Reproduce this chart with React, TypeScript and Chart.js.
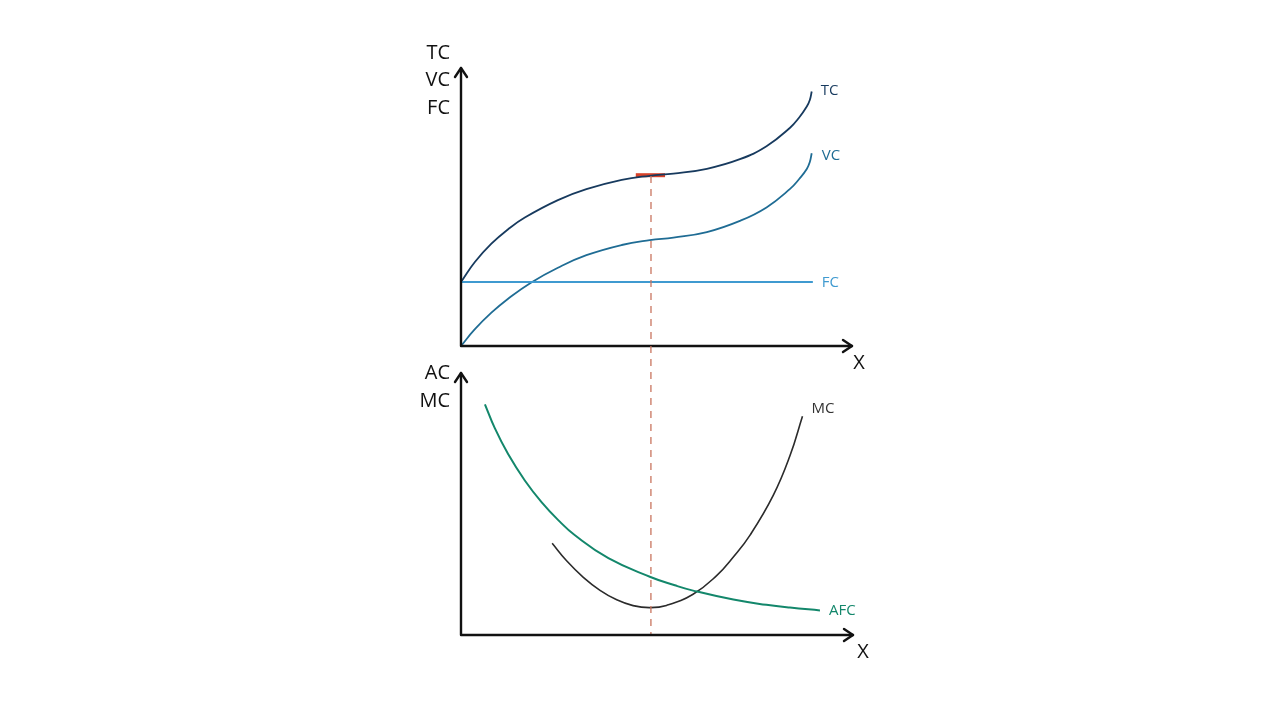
import React, { useEffect, useRef } from "react";
import { Chart, registerables } from "chart.js";

Chart.register(...registerables);

// ---------- Top panel data (TC, VC, FC) ----------
const tcX = [0, 0.36, 0.8, 1.24, 1.68, 2.55, 3.3, 4.23, 4.97, 5.59, 6.47, 7.34, 8.04, 8.66, 8.9, 9.1, 9.18, 9.23];
const tcValues = [6.4, 8.38, 10.23, 11.68, 12.85, 14.59, 15.68, 16.61, 17.02, 17.24, 17.72, 18.68, 19.98, 21.83, 22.85, 23.95, 24.6, 25.45];
const vcX = [0, 0.36, 0.8, 1.24, 1.85, 2.55, 3.3, 4.23, 4.97, 5.59, 6.47, 7.34, 8.04, 8.66, 8.9, 9.1, 9.18, 9.23];
const vcValues = [0, 1.66, 3.33, 4.73, 6.36, 7.83, 9.08, 10.1, 10.58, 10.84, 11.39, 12.51, 13.86, 15.71, 16.7, 17.7, 18.4, 19.27];
const fcX = [0, 9.26];
const fcValues = [6.4, 6.4];
const highlightX = [4.6, 5.37];
const highlightValues = [17.08, 17.08];
const dashTopX = [5, 5];
const dashTopValues = [17.0, 0];
const topXMax = 10.29;
const topYMax = 27.8;

// ---------- Bottom panel data (AFC, MC) ----------
const afcX = [0.63, 0.89, 1.24, 1.68, 2.12, 2.56, 3.0, 3.88, 4.97, 5.63, 6.11, 7.17, 8.04, 8.66, 9.45];
const afcValues = [23.07, 20.68, 18.09, 15.45, 13.29, 11.49, 9.97, 7.68, 5.83, 4.97, 4.44, 3.54, 3.02, 2.74, 2.46];
const mcX = [2.4, 2.78, 3.22, 3.66, 4.1, 4.53, 4.97, 5.41, 6.11, 6.73, 7.17, 7.61, 8.22, 8.66, 8.99];
const mcValues = [9.17, 7.42, 5.77, 4.47, 3.52, 2.94, 2.74, 2.96, 4.08, 5.94, 7.8, 9.99, 13.96, 17.92, 21.88];
const dashBottomX = [5, 5];
const dashBottomValues = [28.9, 0];
const bottomXMax = 10.32;
const bottomYMax = 26.2;

// ---------- Text ----------
const topAxisTitles = ["TC", "VC", "FC"];
const bottomAxisTitles = ["AC", "MC"];
const xAxisTitle = "X";

const FONT = "'Open Sans', 'Noto Sans', sans-serif";

type Pt = { x: number; y: number };
const pts = (xs: number[], ys: number[]): Pt[] => xs.map((x, i) => ({ x, y: ys[i] }));

type CurveLabel = { ds: number; text: string; color: string; dx: number; dy: number };

function axesPlugin(titles: string[], titleStep: number, titleTopOffset: number, curveLabels: CurveLabel[], xLabelDx: number) {
  return {
    id: "econAxes",
    afterDatasetsDraw(chart: any) {
      const { ctx, chartArea } = chart;
      const { left, right, top, bottom } = chartArea;
      ctx.save();
      ctx.strokeStyle = "#111";
      ctx.lineWidth = 2.4;
      ctx.lineCap = "round";
      ctx.lineJoin = "round";
      ctx.beginPath();
      ctx.moveTo(left, top);
      ctx.lineTo(left, bottom);
      ctx.lineTo(right, bottom);
      ctx.stroke();
      const a = 9;
      const s = 6;
      ctx.beginPath();
      ctx.moveTo(left - s, top + a);
      ctx.lineTo(left, top);
      ctx.lineTo(left + s, top + a);
      ctx.stroke();
      ctx.beginPath();
      ctx.moveTo(right - a, bottom - s);
      ctx.lineTo(right, bottom);
      ctx.lineTo(right - a, bottom + s);
      ctx.stroke();

      // axis titles
      ctx.fillStyle = "#111";
      ctx.font = `20px ${FONT}`;
      ctx.textAlign = "right";
      ctx.textBaseline = "middle";
      titles.forEach((t, i) => {
        ctx.fillText(t, left - 11, top + titleTopOffset + i * titleStep);
      });
      ctx.textAlign = "center";
      ctx.fillText(xAxisTitle, right + xLabelDx, bottom + 17);

      // curve labels
      ctx.font = `15px ${FONT}`;
      ctx.textAlign = "left";
      curveLabels.forEach((cl) => {
        const meta = chart.getDatasetMeta(cl.ds);
        const last = meta.data[meta.data.length - 1];
        ctx.fillStyle = cl.color;
        ctx.fillText(cl.text, last.x + cl.dx, last.y + cl.dy);
      });
      ctx.restore();
    },
  };
}

const TC_COLOR = "#173a5e";
const VC_COLOR = "#1f6c94";
const FC_COLOR = "#3f9ad0";
const AFC_COLOR = "#13876b";
const MC_COLOR = "#2b2b2b";
const DASH_COLOR = "#c9755f";
const HIGHLIGHT_COLOR = "#d8432a";

function baseOptions(xMax: number, yMax: number, padding: any) {
  return {
    animation: false as const,
    responsive: false,
    maintainAspectRatio: false,
    layout: { padding },
    plugins: { legend: { display: false }, tooltip: { enabled: false } },
    elements: { point: { radius: 0 } },
    scales: {
      x: { type: "linear" as const, min: 0, max: xMax, display: false },
      y: { type: "linear" as const, min: 0, max: yMax, display: false },
    },
  };
}

const CANVAS_H = 380;
const BOTTOM_TOP = 340;
const SMOOTH = 0.45;

function TopChart() {
  const ref = useRef<HTMLCanvasElement>(null);
  useEffect(() => {
    if (!ref.current) return;
    const chart = new Chart(ref.current, {
      type: "line",
      data: {
        datasets: [
          { data: pts(dashTopX, dashTopValues), borderColor: DASH_COLOR, borderWidth: 1.3, borderDash: [7, 6], tension: 0 } as any,
          { data: pts(fcX, fcValues), borderColor: FC_COLOR, borderWidth: 2.2, tension: 0 },
          { data: pts(vcX, vcValues), borderColor: VC_COLOR, borderWidth: 1.8, tension: SMOOTH },
          { data: pts(tcX, tcValues), borderColor: TC_COLOR, borderWidth: 1.8, tension: SMOOTH },
          { data: pts(highlightX, highlightValues), borderColor: HIGHLIGHT_COLOR, borderWidth: 4, tension: 0, borderCapStyle: "butt" },
        ],
      },
      options: baseOptions(topXMax, topYMax, { left: 461, right: 1280 - 852, top: 68, bottom: CANVAS_H - 346 }) as any,
      plugins: [
        axesPlugin(topAxisTitles, 27.5, -15, [
          { ds: 3, text: "TC", color: TC_COLOR, dx: 9, dy: -1 },
          { ds: 2, text: "VC", color: VC_COLOR, dx: 10, dy: 2 },
          { ds: 1, text: "FC", color: FC_COLOR, dx: 9, dy: 1 },
        ], 7) as any,
      ],
    });
    return () => chart.destroy();
  }, []);
  return <canvas ref={ref} width={1280} height={CANVAS_H} style={{ position: "absolute", left: 0, top: 0 }} />;
}

function BottomChart() {
  const ref = useRef<HTMLCanvasElement>(null);
  useEffect(() => {
    if (!ref.current) return;
    const chart = new Chart(ref.current, {
      type: "line",
      data: {
        datasets: [
          { data: pts(dashBottomX, dashBottomValues), borderColor: DASH_COLOR, borderWidth: 1.3, borderDash: [7, 6], clip: false, tension: 0 } as any,
          { data: pts(afcX, afcValues), borderColor: AFC_COLOR, borderWidth: 2, tension: SMOOTH },
          { data: pts(mcX, mcValues), borderColor: MC_COLOR, borderWidth: 1.6, tension: SMOOTH },
        ],
      },
      options: baseOptions(bottomXMax, bottomYMax, { left: 461, right: 1280 - 853, top: 373 - BOTTOM_TOP, bottom: CANVAS_H - (635 - BOTTOM_TOP) }) as any,
      plugins: [
        axesPlugin(bottomAxisTitles, 28, 0, [
          { ds: 2, text: "MC", color: "#333", dx: 9, dy: -7 },
          { ds: 1, text: "AFC", color: AFC_COLOR, dx: 9, dy: 0 },
        ], 10) as any,
      ],
    });
    return () => chart.destroy();
  }, []);
  return <canvas ref={ref} width={1280} height={CANVAS_H} style={{ position: "absolute", left: 0, top: BOTTOM_TOP }} />;
}

export default function App() {
  return (
    <div style={{ position: "fixed", left: 0, top: 0, width: 1280, height: 720, background: "#fff", overflow: "hidden" }}>
      <TopChart />
      <BottomChart />
    </div>
  );
}
